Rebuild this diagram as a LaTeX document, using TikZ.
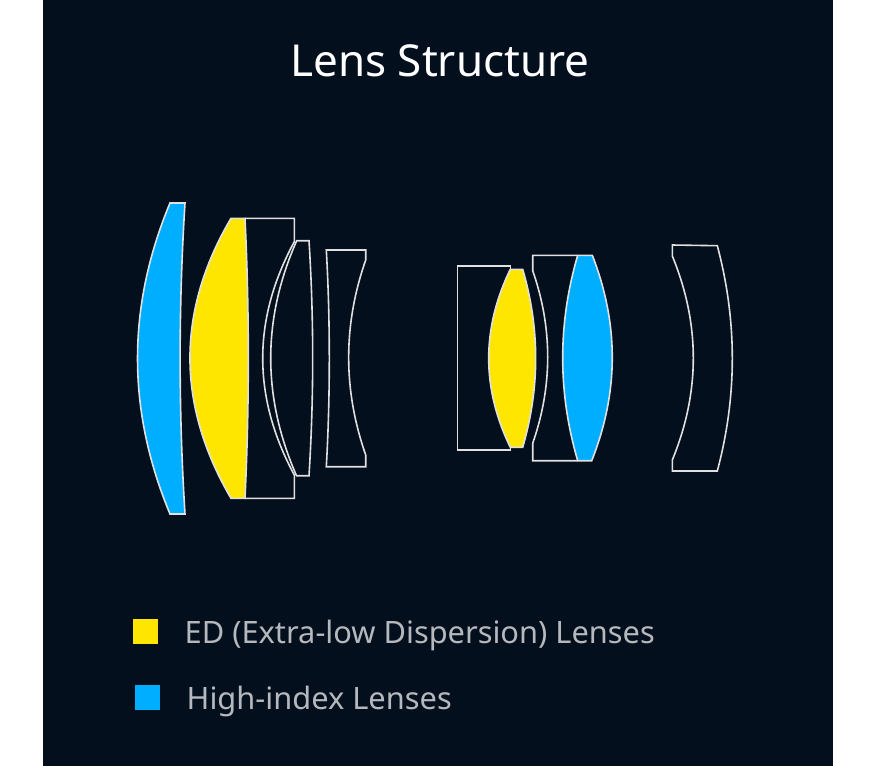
\documentclass[tikz,border=0pt]{standalone}
\usepackage{fontspec}
\setmainfont{Noto Sans}
\definecolor{panel}{HTML}{040F1E}
\definecolor{edyellow}{HTML}{FFE600}
\definecolor{hiblue}{HTML}{00AEFF}
\definecolor{legendgrey}{HTML}{B5B8BC}
\tikzset{
  outline/.style={draw=white!88!black,line width=1.6pt,line join=miter},
  edlens/.style={outline,fill=edyellow},
  hilens/.style={outline,fill=hiblue},
  swatch/.style={minimum size=25pt,inner sep=0pt,anchor=north west},
  legend/.style={font=\fontsize{30.8}{33}\selectfont,text=legendgrey,anchor=base west,inner sep=0pt},
  heading/.style={font=\fontsize{44}{48}\selectfont,text=white,anchor=base,inner sep=0pt}
}
\begin{document}
\begin{tikzpicture}[x=1pt,y=-1pt]
    \useasboundingbox (0,0) rectangle (876,766);
    \fill[panel] (43,0) rectangle (833,766);
    \node[heading] (title) at (440,76) {Lens Structure};
    % front group
    \draw[hilens] (170,203) -- (185,203) .. controls (178.5,307) and (178.5,410) .. (185,514)
      -- (170,514) .. controls (126.7,410) and (126.7,307) .. (170,203) -- cycle;
    \draw[outline] (245,218.3) -- (294.3,218.3) -- (294.3,241.7)
      .. controls (252.2,319.5) and (252.2,397) .. (294.3,475) -- (294.3,498.3) -- (245,498.3);
    \draw[edlens] (231,218.3) -- (245,218.3) .. controls (249.4,311) and (249.4,405) .. (245,498.3)
      -- (231,498.3) .. controls (176.3,405) and (176.3,311) .. (231,218.3) -- cycle;
    \draw[outline] (296.7,240.7) -- (309,240.7) .. controls (313.9,319) and (313.9,397) .. (309,475.7)
      -- (296.5,475.7) .. controls (262.1,397) and (262.1,319) .. (296.7,240.7) -- cycle;
    \draw[outline] (326.3,250) -- (365.7,250) -- (365.7,260) .. controls (343,325) and (343,390) .. (365.7,455)
      -- (365.7,466.7) -- (326.3,466.7) .. controls (330.3,397) and (330.3,320) .. (326.3,250) -- cycle;
    % rear group
    \draw[outline] (510.3,269.3) -- (510.3,266) -- (457.3,266) -- (457.3,450) -- (510.3,450) -- (510.3,447.3);
    \draw[edlens] (510.3,269.3) -- (522.7,269.3) .. controls (540,328.6) and (540,388) .. (522.7,447.3)
      -- (510.3,447.3) .. controls (481.5,388) and (481.5,328.6) .. (510.3,269.3) -- cycle;
    \draw[outline] (577.7,255.3) -- (532.7,255.3) -- (532.7,270.7) .. controls (552.7,328) and (552.7,386) .. (532.7,443.3)
      -- (532.7,460.7) -- (577.7,460.7);
    \draw[hilens] (577.7,255.3) -- (592.3,255.3) .. controls (619,323.8) and (619,392.2) .. (591.7,460.7)
      -- (577.7,460.7) .. controls (557.7,392.2) and (557.7,323.8) .. (577.7,255.3) -- cycle;
    \draw[outline] (672.3,245) -- (717.3,245.7) .. controls (737.3,320.8) and (737.3,396) .. (717.3,471)
      -- (672.3,471) -- (672.3,460) .. controls (700.3,392) and (700.3,324) .. (672.3,256) -- cycle;
    % legend
    \node[swatch,fill=edyellow] (edbox) at (133,619) {};
    \node[legend] (edtext) at (184.5,643.5) {ED (Extra-low Dispersion) Lenses};
    \node[swatch,fill=hiblue] (hibox) at (135,685) {};
    \node[legend] (hitext) at (186.5,709.5) {High-index Lenses};
\end{tikzpicture}
\end{document}
